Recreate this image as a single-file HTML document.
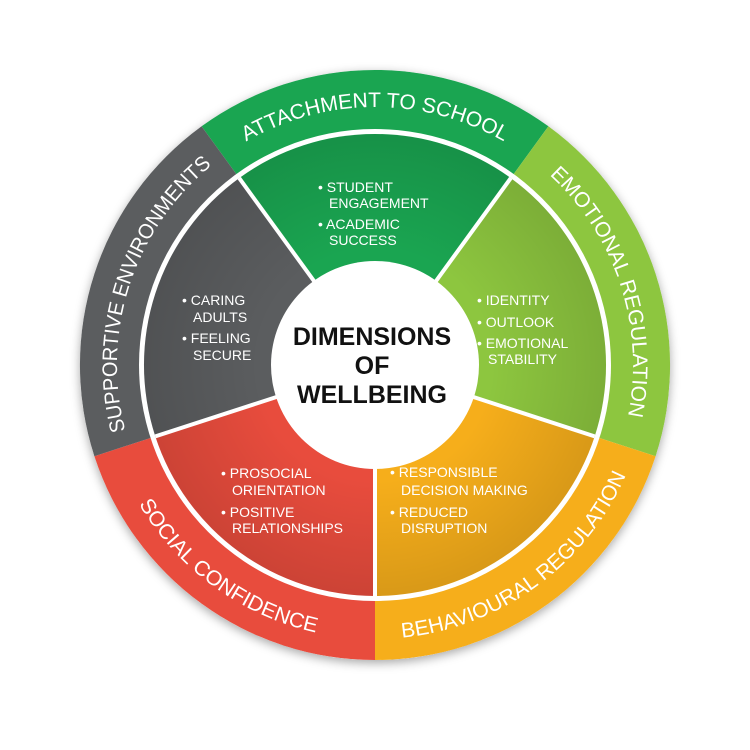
<!DOCTYPE html>
<html><head><meta charset="utf-8"><style>
html,body{margin:0;padding:0;background:#fff;width:750px;height:750px;overflow:hidden}
svg{display:block}
.o{font-family:"Liberation Sans",sans-serif;font-size:21px;fill:#fff;}
.i{font-family:"Liberation Sans",sans-serif;font-size:14px;fill:#fff;}
.c{font-family:"Liberation Sans",sans-serif;font-size:25px;font-weight:bold;fill:#111;text-anchor:middle}
</style></head><body>
<svg width="750" height="750" viewBox="0 0 750 750">
<defs>
<filter id="sh" x="-10%" y="-10%" width="120%" height="120%"><feDropShadow dx="0" dy="3" stdDeviation="5" flood-color="#000" flood-opacity="0.35"/></filter>
<radialGradient id="dk" cx="375" cy="365" r="231" gradientUnits="userSpaceOnUse">
<stop offset="0.5" stop-color="#000" stop-opacity="0"/><stop offset="1" stop-color="#000" stop-opacity="0.12"/></radialGradient>
<path id="pTop" d="M223.4,156.3 A258,258 0 0 1 526.6,156.3"/>
<path id="pRight" d="M526.6,156.3 A258,258 0 0 1 620.4,444.7"/>
<path id="pLeft" d="M129.6,444.7 A258,258 0 0 1 223.4,156.3"/>
<path id="pYel" d="M375,639 A274,274 0 0 0 635.6,449.7"/>
<path id="pRed" d="M114.4,449.7 A274,274 0 0 0 375,639"/>
</defs>
<g filter="url(#sh)"><circle cx="375" cy="365" r="295" fill="#fff"/></g>
<path d="M375,365 L201.6,126.3 A295,295 0 0 1 548.4,126.3Z" fill="#1aa551"/>
<path d="M375,365 L548.4,126.3 A295,295 0 0 1 655.6,456.2Z" fill="#8dc63f"/>
<path d="M375,365 L655.6,456.2 A295,295 0 0 1 375,660Z" fill="#f6ae1b"/>
<path d="M375,365 L375,660 A295,295 0 0 1 94.4,456.2Z" fill="#e84c3d"/>
<path d="M375,365 L94.4,456.2 A295,295 0 0 1 201.6,126.3Z" fill="#5b5d5f"/>
<circle cx="375" cy="365" r="236" fill="#fff"/>
<path d="M375,365 L239.2,178.1 A231,231 0 0 1 510.8,178.1Z" fill="#1aa551"/>
<path d="M375,365 L510.8,178.1 A231,231 0 0 1 594.7,436.4Z" fill="#8dc63f"/>
<path d="M375,365 L594.7,436.4 A231,231 0 0 1 375,596Z" fill="#f6ae1b"/>
<path d="M375,365 L375,596 A231,231 0 0 1 155.3,436.4Z" fill="#e84c3d"/>
<path d="M375,365 L155.3,436.4 A231,231 0 0 1 239.2,178.1Z" fill="#5b5d5f"/>
<circle cx="375" cy="365" r="231" fill="url(#dk)"/>
<g stroke="#fff" stroke-width="4">
<line x1="375" y1="365" x2="239.2" y2="178.1"/><line x1="375" y1="365" x2="510.8" y2="178.1"/>
<line x1="375" y1="365" x2="594.7" y2="436.4"/><line x1="375" y1="365" x2="375" y2="596"/>
<line x1="375" y1="365" x2="155.3" y2="436.4"/></g>
<circle cx="375" cy="365" r="104" fill="#fff"/>
<text class="c" x="372" y="345">DIMENSIONS</text>
<text class="c" x="372" y="374">OF</text>
<text class="c" x="372" y="403">WELLBEING</text>
<text class="o" text-anchor="middle"><textPath href="#pTop" startOffset="50%" textLength="270" lengthAdjust="spacingAndGlyphs">ATTACHMENT TO SCHOOL</textPath></text>
<text class="o" text-anchor="middle"><textPath href="#pRight" startOffset="50%" textLength="265" lengthAdjust="spacingAndGlyphs">EMOTIONAL REGULATION</textPath></text>
<text class="o" text-anchor="middle"><textPath href="#pLeft" startOffset="50%" textLength="295" lengthAdjust="spacingAndGlyphs">SUPPORTIVE ENVIRONMENTS</textPath></text>
<text class="o" text-anchor="middle"><textPath href="#pYel" startOffset="50%" textLength="290" lengthAdjust="spacingAndGlyphs">BEHAVIOURAL REGULATION</textPath></text>
<text class="o" text-anchor="middle"><textPath href="#pRed" startOffset="50%" textLength="225" lengthAdjust="spacingAndGlyphs">SOCIAL CONFIDENCE</textPath></text>
<g class="i">
<text x="318" y="192">• STUDENT</text><text x="329" y="208">ENGAGEMENT</text>
<text x="318" y="229">• ACADEMIC</text><text x="329" y="245">SUCCESS</text>
<text x="477" y="305">• IDENTITY</text><text x="477" y="327">• OUTLOOK</text>
<text x="477" y="348">• EMOTIONAL</text><text x="488" y="364">STABILITY</text>
<text x="390" y="477">• RESPONSIBLE</text><text x="401" y="495">DECISION MAKING</text>
<text x="390" y="517">• REDUCED</text><text x="401" y="533">DISRUPTION</text>
<text x="221" y="478">• PROSOCIAL</text><text x="232" y="495">ORIENTATION</text>
<text x="221" y="517">• POSITIVE</text><text x="232" y="533">RELATIONSHIPS</text>
<text x="182" y="305">• CARING</text><text x="193" y="322">ADULTS</text>
<text x="182" y="343">• FEELING</text><text x="193" y="360">SECURE</text>
</g>
</svg>
</body></html>
